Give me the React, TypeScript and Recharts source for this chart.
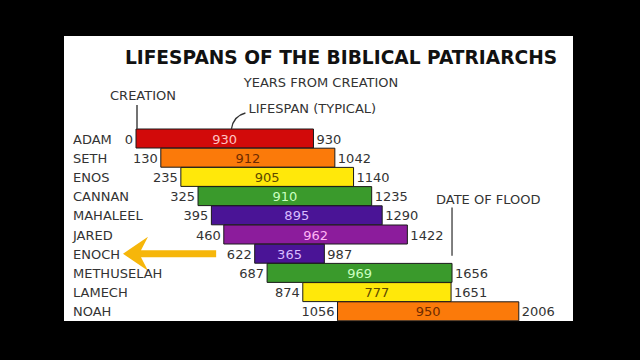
import { BarChart, Bar, XAxis, YAxis, Cell, LabelList, ReferenceLine } from "recharts";

const names = ["ADAM", "SETH", "ENOS", "CANNAN", "MAHALEEL", "JARED", "ENOCH", "METHUSELAH", "LAMECH", "NOAH"];
const births = [0, 130, 235, 325, 395, 460, 622, 687, 874, 1056];
const lifespans = [930, 912, 905, 910, 895, 962, 365, 969, 777, 950];
const deaths = [930, 1042, 1140, 1235, 1290, 1422, 987, 1656, 1651, 2006];
const floodYear = 1656;

const barColors = ["#d20a0a", "#fb7a0a", "#ffe80a", "#3a9a2c", "#4a1496", "#8c1c9c", "#4a1496", "#3a9a2c", "#ffe80a", "#fb7a0a"];
const innerText = ["#ffc4c4", "#6e2a00", "#5c4a00", "#caffc0", "#d8bcff", "#ffb4f4", "#d8bcff", "#caffc0", "#5c4a00", "#6e2a00"];

const data = names.map((name, i) => ({ name, birth: births[i], life: lifespans[i], death: deaths[i] }));

const FONT = "'DejaVu Sans', Verdana, sans-serif";
const LABEL = "#333";

function NameTick(props: any) {
  const { y, payload } = props;
  return (
    <text x={73} y={y} dy={5} fontSize={13} fontFamily={FONT} fill={LABEL} textAnchor="start">
      {payload.value}
    </text>
  );
}

function RowLabels(props: any) {
  const { x, y, width, height, index } = props;
  const cy = y + height / 2 + 5;
  return (
    <g fontFamily={FONT} fontSize={13}>
      <text x={x - 3} y={cy} textAnchor="end" fill={LABEL}>{births[index]}</text>
      <text x={x + width / 2} y={cy} textAnchor="middle" fill={innerText[index]}>{lifespans[index]}</text>
      <text x={x + width + 3} y={cy} textAnchor="start" fill={LABEL}>{deaths[index]}</text>
    </g>
  );
}

// x-only reference lines span the plot; take the upper end as the top of the bars
function CreationMark(props: any) {
  const { x1, y1, y2 } = props;
  const top = Math.min(y1, y2);
  return (
    <g>
      <line x1={x1 + 1} y1={top - 24} x2={x1 + 1} y2={top} stroke="#444" strokeWidth={1.5} />
      <text x={x1 + 7} y={top - 29} textAnchor="middle" fontSize={13} fontFamily={FONT} fill={LABEL}>CREATION</text>
    </g>
  );
}

function LifespanMark(props: any) {
  const { x1, y1, y2 } = props;
  const top = Math.min(y1, y2);
  return (
    <g>
      <path d={`M${x1 + 14},${top - 16} Q${x1 + 2},${top - 13} ${x1},${top}`} fill="none" stroke="#333" strokeWidth={1.3} />
      <text x={x1 + 17} y={top - 16} fontSize={13} fontFamily={FONT} fill={LABEL}>LIFESPAN (TYPICAL)</text>
    </g>
  );
}

function FloodMark(props: any) {
  const { x1, y1, y2 } = props;
  const top = Math.min(y1, y2);
  const bottom = Math.max(y1, y2);
  return (
    <g>
      <line x1={x1} y1={top - 8} x2={x1} y2={bottom + 2} stroke="#555" strokeWidth={1.5} />
      <text x={x1 - 16} y={top - 11} fontSize={13} fontFamily={FONT} fill={LABEL}>DATE OF FLOOD</text>
    </g>
  );
}

function ArrowMark(props: any) {
  const { x1, y1, x2 } = props;
  const y = y1;
  const tip = x1 - 13;
  const pts = [
    [tip, y],
    [x1 + 12, y - 17],
    [x1 + 5, y - 3.5],
    [x2, y - 3.5],
    [x2, y + 3.5],
    [x1 + 5, y + 3.5],
    [x1 + 12, y + 17],
  ]
    .map((p) => p.join(","))
    .join(" ");
  return <polygon points={pts} fill="#f6b60a" />;
}

export default function App() {
  return (
    <div style={{ position: "absolute", left: 0, top: 0, width: 640, height: 360, background: "#000", overflow: "hidden" }}>
      <div style={{ position: "absolute", left: 64, top: 36, width: 509, height: 285, background: "#fff" }} />
      <div style={{ position: "absolute", left: 0, top: 0 }}>
        <BarChart
          width={640}
          height={360}
          data={data}
          layout="vertical"
          barCategoryGap={0}
          margin={{ top: 129, right: 46, bottom: 39, left: 76 }}
        >
          <XAxis type="number" domain={[0, 2400]} hide />
          <YAxis
            type="category"
            dataKey="name"
            width={60}
            axisLine={false}
            tickLine={false}
            tick={<NameTick />}
            interval={0}
          />
          <Bar dataKey="birth" stackId="a" fill="transparent" isAnimationActive={false} />
          <Bar dataKey="life" stackId="a" stroke="#1a1a1a" strokeWidth={1} isAnimationActive={false}>
            {data.map((d, i) => (
              <Cell key={d.name} fill={barColors[i]} />
            ))}
            <LabelList dataKey="life" content={<RowLabels />} />
          </Bar>
          <ReferenceLine x={0} shape={<CreationMark />} />
          <ReferenceLine x={500} shape={<LifespanMark />} />
          <ReferenceLine
            segment={[
              { x: floodYear, y: "MAHALEEL" },
              { x: floodYear, y: "ENOCH" },
            ]}
            shape={<FloodMark />}
          />
          <ReferenceLine
            segment={[
              { x: 0, y: "ENOCH" },
              { x: 420, y: "ENOCH" },
            ]}
            shape={<ArrowMark />}
          />
        </BarChart>
      </div>
      <svg width={640} height={360} style={{ position: "absolute", left: 0, top: 0, pointerEvents: "none" }}>
        <text x={341} y={64} textAnchor="middle" fontSize={18.6} fontWeight="bold" fontFamily={FONT} fill="#111">
          LIFESPANS OF THE BIBLICAL PATRIARCHS
        </text>
        <text x={321} y={87} textAnchor="middle" fontSize={13} fontFamily={FONT} fill={LABEL}>
          YEARS FROM CREATION
        </text>
      </svg>
    </div>
  );
}
